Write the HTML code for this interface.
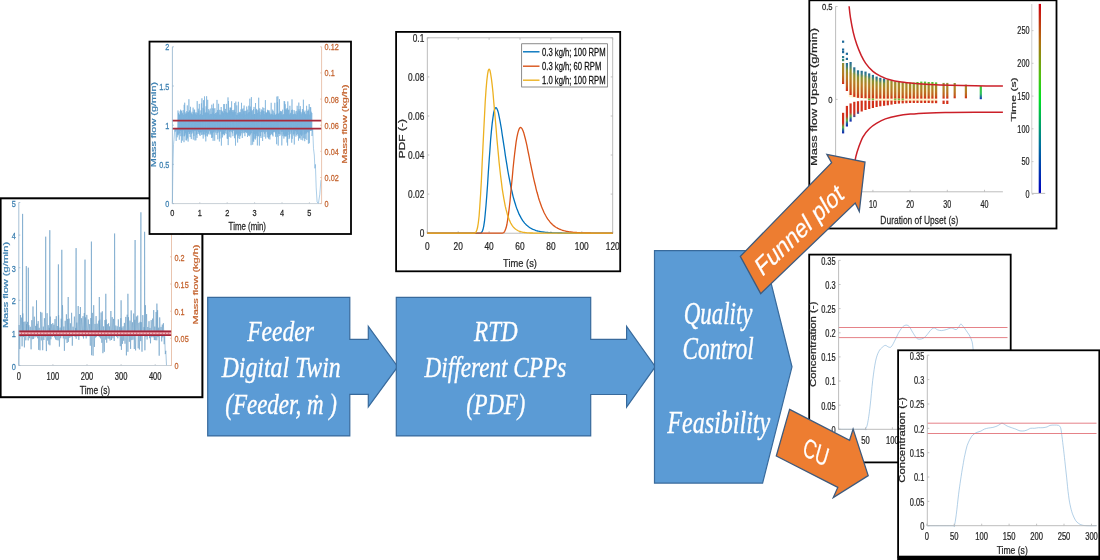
<!DOCTYPE html>
<html><head><meta charset="utf-8"><title>Digital twin workflow</title>
<style>html,body{margin:0;padding:0;background:#fff}svg{display:block}</style></head><body>
<svg width="1100" height="560" viewBox="0 0 1100 560" font-family="Liberation Sans, sans-serif">
<rect width="1100" height="560" fill="#fff"/>
<g id="plotA">
<rect x="0.6" y="198.3" width="201.8" height="198.9" fill="#fff" stroke="#000" stroke-width="2.0"/>
<path d="M18.8 365.5 L19.1 325.0 L19.8 349.1 L20.4 315.0 L20.9 337.0 L21.4 317.6 L22.1 346.3 L22.4 332.9 L22.6 213.9 L22.7 336.2 L22.8 313.4 L23.4 337.0 L23.9 321.9 L24.4 347.4 L25.1 321.5 L25.8 340.3 L26.2 332.9 L26.3 266.1 L26.5 336.2 L26.5 324.2 L27.0 335.8 L27.6 321.9 L28.2 332.9 L28.2 340.4 L28.3 267.7 L28.5 336.2 L28.9 325.2 L29.6 338.2 L30.3 326.8 L31.1 349.3 L31.8 320.2 L32.3 339.2 L33.0 306.5 L33.6 339.0 L34.3 316.7 L35.0 337.4 L35.6 325.9 L36.3 336.5 L36.4 332.9 L36.5 300.3 L36.7 336.2 L37.1 323.8 L37.7 338.3 L38.2 321.1 L38.7 349.8 L39.2 327.8 L40.0 350.3 L40.6 311.9 L41.3 340.4 L41.9 312.6 L42.7 350.2 L43.3 326.6 L43.9 340.0 L44.4 318.2 L45.1 337.2 L45.6 332.9 L45.7 236.7 L45.7 311.8 L45.9 336.2 L46.4 351.1 L47.1 313.2 L47.7 340.6 L48.3 325.2 L48.8 344.4 L49.3 327.8 L49.7 332.9 L49.8 230.2 L49.9 345.3 L50.0 336.2 L50.3 316.6 L50.9 339.3 L51.4 324.1 L52.2 336.8 L52.8 323.1 L53.3 335.4 L53.9 324.7 L54.4 337.4 L55.0 319.1 L55.5 339.4 L56.3 316.2 L56.8 340.1 L57.3 326.0 L58.1 340.4 L58.2 332.9 L58.4 264.4 L58.5 336.2 L58.6 315.2 L59.4 346.6 L60.1 327.5 L60.7 338.2 L61.2 318.7 L61.6 332.9 L61.8 335.8 L61.8 249.8 L61.9 336.2 L62.5 305.2 L63.3 338.4 L63.9 326.5 L64.4 350.8 L65.2 320.8 L65.9 339.3 L66.4 314.3 L67.1 343.0 L67.7 319.0 L68.1 332.9 L68.2 297.0 L68.3 341.9 L68.4 336.2 L69.1 318.6 L69.8 337.8 L70.4 323.3 L71.1 336.9 L71.6 312.8 L72.3 345.7 L73.0 326.7 L73.7 335.7 L74.4 316.6 L75.1 337.0 L75.7 327.9 L75.9 332.9 L76.1 248.1 L76.2 338.7 L76.2 336.2 L76.8 322.6 L77.5 336.3 L78.2 306.0 L78.8 339.8 L79.4 314.0 L79.9 336.2 L80.4 307.0 L80.9 335.4 L81.6 318.2 L82.3 336.5 L83.0 316.2 L83.5 338.5 L84.3 313.0 L84.8 332.9 L85.0 259.6 L85.0 335.4 L85.1 336.2 L85.6 317.4 L86.2 338.4 L86.8 314.9 L87.6 336.2 L88.3 319.5 L89.0 336.3 L89.7 324.1 L90.3 345.7 L90.8 318.1 L91.3 332.9 L91.4 241.6 L91.6 336.2 L91.6 355.2 L92.3 312.9 L93.1 355.7 L93.7 305.2 L94.4 346.9 L95.0 323.9 L95.6 337.6 L96.1 316.1 L96.6 336.7 L97.2 323.7 L98.0 335.3 L98.8 320.7 L99.1 332.9 L99.3 337.2 L99.3 297.0 L99.4 336.2 L99.8 319.6 L100.6 338.4 L101.1 312.5 L101.8 342.8 L102.3 311.3 L102.9 353.2 L103.6 326.4 L104.3 351.8 L104.9 320.1 L105.6 332.9 L105.7 339.7 L105.8 293.8 L105.9 336.2 L106.2 319.5 L106.7 342.7 L107.3 324.2 L108.0 338.5 L108.6 323.3 L109.1 338.7 L109.6 326.4 L110.1 340.5 L110.9 311.0 L111.5 340.0 L112.2 317.1 L112.9 338.3 L113.5 318.9 L114.2 341.0 L114.5 332.9 L114.6 233.5 L114.8 322.2 L114.8 336.2 L115.2 335.9 L115.8 325.5 L116.5 336.7 L117.2 326.3 L117.8 338.3 L118.3 319.4 L119.1 336.3 L119.7 326.9 L120.3 346.2 L120.8 318.2 L121.0 332.9 L121.1 300.3 L121.3 336.2 L121.4 349.9 L121.9 327.6 L122.5 343.8 L123.1 326.3 L123.7 340.8 L124.4 322.9 L125.0 343.7 L125.8 316.9 L126.4 355.4 L127.2 314.7 L127.8 332.9 L127.9 351.8 L127.9 293.8 L128.1 336.2 L128.5 317.2 L129.3 341.8 L130.0 320.6 L130.6 348.9 L131.2 310.4 L131.8 340.1 L132.5 322.3 L133.0 339.6 L133.7 313.5 L134.3 349.0 L134.9 319.8 L134.9 332.9 L135.1 240.0 L135.2 336.2 L135.6 350.4 L136.4 316.5 L137.0 335.3 L137.7 315.5 L138.2 348.3 L138.9 322.9 L139.4 349.5 L140.1 321.8 L140.7 341.1 L140.7 332.9 L140.9 212.3 L141.0 336.2 L141.3 322.2 L142.0 351.7 L142.8 315.1 L143.5 335.7 L144.1 327.1 L144.5 332.9 L144.6 231.8 L144.8 336.2 L144.9 350.3 L145.4 305.2 L145.9 336.8 L146.6 314.1 L147.1 339.5 L147.8 327.0 L148.4 335.2 L149.0 321.2 L149.5 338.2 L150.0 327.9 L150.5 343.3 L151.2 320.1 L151.8 337.2 L152.6 318.6 L153.2 337.3 L153.7 310.1 L154.3 340.0 L154.8 326.6 L155.3 340.2 L156.1 312.0 L156.8 332.9 L156.8 340.3 L156.9 303.6 L157.1 336.2 L157.6 310.2 L158.0 337.2 L158.7 327.7 L159.2 355.7 L159.7 317.4 L160.3 335.9 L161.1 326.9 L161.7 341.4 L162.3 324.6 L162.8 337.4 L163.4 323.2 L164.2 344.2 L164.7 336.2 L165.3 354.1 L165.8 350.8 L166.5 365.5" fill="none" stroke="#6a9dc6" stroke-width="0.6" stroke-linejoin="round" />
<rect x="18.8" y="330.8" width="152.7" height="5" fill="#d56a78"/>
<line x1="18.8" y1="331.3" x2="171.5" y2="331.3" stroke="#a3243a" stroke-width="1.4" />
<line x1="18.8" y1="335.3" x2="171.5" y2="335.3" stroke="#a3243a" stroke-width="1.4" />
<line x1="18.8" y1="333.3" x2="171.5" y2="333.3" stroke="#f6d6da" stroke-width="0.9" stroke-dasharray="2.2 1"/>
<line x1="18.8" y1="202.5" x2="18.8" y2="365.5" stroke="#8fb0cc" stroke-width="0.8" />
<line x1="18.8" y1="365.5" x2="171.5" y2="365.5" stroke="#b9c3cc" stroke-width="0.8" />
<line x1="171.5" y1="202.5" x2="171.5" y2="365.5" stroke="#e3b59b" stroke-width="0.8" />
<line x1="18.8" y1="365.5" x2="20.3" y2="365.5" stroke="#8fb0cc" stroke-width="0.7" />
<text transform="translate(15.8,369.5) scale(0.8,1)" font-size="9.2" text-anchor="end" fill="#3b7fb0" stroke="#3b7fb0" stroke-width="0.25" >0</text>
<line x1="18.8" y1="332.9" x2="20.3" y2="332.9" stroke="#8fb0cc" stroke-width="0.7" />
<text transform="translate(15.8,336.9) scale(0.8,1)" font-size="9.2" text-anchor="end" fill="#3b7fb0" stroke="#3b7fb0" stroke-width="0.25" >1</text>
<line x1="18.8" y1="300.3" x2="20.3" y2="300.3" stroke="#8fb0cc" stroke-width="0.7" />
<text transform="translate(15.8,304.3) scale(0.8,1)" font-size="9.2" text-anchor="end" fill="#3b7fb0" stroke="#3b7fb0" stroke-width="0.25" >2</text>
<line x1="18.8" y1="267.7" x2="20.3" y2="267.7" stroke="#8fb0cc" stroke-width="0.7" />
<text transform="translate(15.8,271.7) scale(0.8,1)" font-size="9.2" text-anchor="end" fill="#3b7fb0" stroke="#3b7fb0" stroke-width="0.25" >3</text>
<line x1="18.8" y1="235.1" x2="20.3" y2="235.1" stroke="#8fb0cc" stroke-width="0.7" />
<text transform="translate(15.8,239.1) scale(0.8,1)" font-size="9.2" text-anchor="end" fill="#3b7fb0" stroke="#3b7fb0" stroke-width="0.25" >4</text>
<line x1="18.8" y1="202.5" x2="20.3" y2="202.5" stroke="#8fb0cc" stroke-width="0.7" />
<text transform="translate(15.8,206.5) scale(0.8,1)" font-size="9.2" text-anchor="end" fill="#3b7fb0" stroke="#3b7fb0" stroke-width="0.25" >5</text>
<line x1="170.0" y1="365.5" x2="171.5" y2="365.5" stroke="#e3b59b" stroke-width="0.7" />
<text transform="translate(174.5,369.4) scale(0.76,1)" font-size="9.6" text-anchor="start" fill="#c4622d" stroke="#c4622d" stroke-width="0.25" >0</text>
<line x1="170.0" y1="338.3" x2="171.5" y2="338.3" stroke="#e3b59b" stroke-width="0.7" />
<text transform="translate(174.5,342.2) scale(0.76,1)" font-size="9.6" text-anchor="start" fill="#c4622d" stroke="#c4622d" stroke-width="0.25" >0.05</text>
<line x1="170.0" y1="311.2" x2="171.5" y2="311.2" stroke="#e3b59b" stroke-width="0.7" />
<text transform="translate(174.5,315.1) scale(0.76,1)" font-size="9.6" text-anchor="start" fill="#c4622d" stroke="#c4622d" stroke-width="0.25" >0.1</text>
<line x1="170.0" y1="284.0" x2="171.5" y2="284.0" stroke="#e3b59b" stroke-width="0.7" />
<text transform="translate(174.5,287.9) scale(0.76,1)" font-size="9.6" text-anchor="start" fill="#c4622d" stroke="#c4622d" stroke-width="0.25" >0.15</text>
<line x1="170.0" y1="256.8" x2="171.5" y2="256.8" stroke="#e3b59b" stroke-width="0.7" />
<text transform="translate(174.5,260.7) scale(0.76,1)" font-size="9.6" text-anchor="start" fill="#c4622d" stroke="#c4622d" stroke-width="0.25" >0.2</text>
<line x1="170.0" y1="229.6" x2="171.5" y2="229.6" stroke="#e3b59b" stroke-width="0.7" />
<text transform="translate(174.5,233.5) scale(0.76,1)" font-size="9.6" text-anchor="start" fill="#c4622d" stroke="#c4622d" stroke-width="0.25" >0.25</text>
<line x1="170.0" y1="202.5" x2="171.5" y2="202.5" stroke="#e3b59b" stroke-width="0.7" />
<text transform="translate(174.5,206.4) scale(0.76,1)" font-size="9.6" text-anchor="start" fill="#c4622d" stroke="#c4622d" stroke-width="0.25" >0.3</text>
<line x1="18.8" y1="365.5" x2="18.8" y2="364.0" stroke="#b9c3cc" stroke-width="0.7" />
<text transform="translate(18.8,379.7) scale(0.72,1)" font-size="10.5" text-anchor="middle" fill="#262626" stroke="#262626" stroke-width="0.25" >0</text>
<line x1="52.9" y1="365.5" x2="52.9" y2="364.0" stroke="#b9c3cc" stroke-width="0.7" />
<text transform="translate(52.9,379.7) scale(0.72,1)" font-size="10.5" text-anchor="middle" fill="#262626" stroke="#262626" stroke-width="0.25" >100</text>
<line x1="87.0" y1="365.5" x2="87.0" y2="364.0" stroke="#b9c3cc" stroke-width="0.7" />
<text transform="translate(87.0,379.7) scale(0.72,1)" font-size="10.5" text-anchor="middle" fill="#262626" stroke="#262626" stroke-width="0.25" >200</text>
<line x1="121.1" y1="365.5" x2="121.1" y2="364.0" stroke="#b9c3cc" stroke-width="0.7" />
<text transform="translate(121.1,379.7) scale(0.72,1)" font-size="10.5" text-anchor="middle" fill="#262626" stroke="#262626" stroke-width="0.25" >300</text>
<line x1="155.2" y1="365.5" x2="155.2" y2="364.0" stroke="#b9c3cc" stroke-width="0.7" />
<text transform="translate(155.2,379.7) scale(0.72,1)" font-size="10.5" text-anchor="middle" fill="#262626" stroke="#262626" stroke-width="0.25" >400</text>
<text transform="translate(95.0,393.5) scale(0.76,1)" font-size="11" text-anchor="middle" fill="#262626" stroke="#262626" stroke-width="0.25" >Time (s)</text>
<text transform="translate(8.2,285.0) scale(0.58,1.0) rotate(-90)" font-size="11" text-anchor="middle" fill="#3b7fb0" stroke="#3b7fb0" stroke-width="0.3">Mass flow (g/min)</text>
<text transform="translate(198.4,284.5) scale(0.58,1.0) rotate(-90)" font-size="11" text-anchor="middle" fill="#c4622d" stroke="#c4622d" stroke-width="0.3">Mass flow (kg/h)</text>
</g>
<g id="plotB">
<rect x="149.5" y="41.6" width="201.5" height="192.4" fill="#fff" stroke="#000" stroke-width="1.8"/>
<path d="M172.4 203.6 L172.9 168.3 L173.5 144.8 L174.0 139.3 L174.6 131.3 L174.9 129.1 L175.1 131.9 L175.4 129.1 L175.6 130.6 L175.9 129.1 L176.2 140.9 L176.4 129.1 L176.7 130.3 L176.9 129.1 L177.2 137.3 L177.5 129.1 L177.7 134.7 L178.0 110.5 L178.2 135.3 L178.5 112.8 L178.8 133.7 L179.0 114.3 L179.3 139.7 L179.5 114.8 L179.8 133.3 L180.1 111.3 L180.3 131.0 L180.6 109.7 L180.8 136.2 L181.1 110.5 L181.4 142.8 L181.6 111.1 L181.9 131.3 L182.1 113.9 L182.4 140.6 L182.7 112.8 L182.9 136.3 L183.2 110.1 L183.4 130.4 L183.7 114.9 L184.0 142.2 L184.2 104.8 L184.5 136.3 L184.7 102.7 L185.0 135.3 L185.3 114.1 L185.5 133.3 L185.8 112.4 L186.0 140.3 L186.3 113.5 L186.6 140.3 L186.8 111.0 L187.1 137.2 L187.3 105.4 L187.6 138.5 L187.9 112.6 L188.1 141.6 L188.4 112.0 L188.6 131.9 L188.9 99.2 L189.2 133.8 L189.4 110.3 L189.7 133.8 L189.9 111.1 L190.2 137.1 L190.5 106.8 L190.7 132.2 L191.0 113.3 L191.3 139.1 L191.5 113.6 L191.8 133.9 L192.0 111.8 L192.3 131.1 L192.6 114.4 L192.8 132.7 L193.1 107.6 L193.3 139.6 L193.6 112.4 L193.9 136.0 L194.1 109.7 L194.4 130.8 L194.6 109.7 L194.9 140.4 L195.2 112.3 L195.4 130.8 L195.7 113.6 L195.9 140.3 L196.2 114.9 L196.5 134.8 L196.7 112.4 L197.0 137.9 L197.2 101.1 L197.5 130.6 L197.8 113.2 L198.0 134.0 L198.3 108.7 L198.5 132.1 L198.8 110.7 L199.1 133.5 L199.3 103.9 L199.6 134.8 L199.8 114.9 L200.1 136.0 L200.4 113.9 L200.6 132.4 L200.9 110.4 L201.1 132.3 L201.4 103.3 L201.7 134.9 L201.9 98.3 L202.2 134.6 L202.4 114.9 L202.7 131.5 L203.0 107.8 L203.2 138.6 L203.5 100.2 L203.7 134.4 L204.0 109.4 L204.3 134.5 L204.5 96.4 L204.8 131.7 L205.0 113.2 L205.3 136.5 L205.6 112.4 L205.8 141.4 L206.1 106.3 L206.3 132.8 L206.6 96.2 L206.9 135.7 L207.1 112.4 L207.4 136.5 L207.7 99.8 L207.9 130.3 L208.2 113.2 L208.4 133.6 L208.7 109.1 L209.0 134.5 L209.2 110.5 L209.5 130.5 L209.7 114.5 L210.0 131.5 L210.3 108.6 L210.5 133.6 L210.8 114.0 L211.0 134.8 L211.3 113.9 L211.6 138.0 L211.8 104.7 L212.1 133.4 L212.3 108.3 L212.6 137.5 L212.9 112.6 L213.1 140.8 L213.4 103.6 L213.6 132.5 L213.9 108.7 L214.2 131.6 L214.4 114.0 L214.7 140.7 L214.9 108.2 L215.2 130.5 L215.5 113.0 L215.7 132.6 L216.0 114.5 L216.2 134.8 L216.5 112.4 L216.8 130.5 L217.0 99.9 L217.3 133.1 L217.5 110.2 L217.8 139.3 L218.1 112.4 L218.3 131.1 L218.6 103.8 L218.8 132.5 L219.1 109.8 L219.4 141.5 L219.6 114.7 L219.9 138.5 L220.1 110.0 L220.4 131.7 L220.7 114.5 L220.9 131.1 L221.2 107.0 L221.4 145.6 L221.7 110.3 L222.0 134.2 L222.2 111.5 L222.5 137.4 L222.7 111.5 L223.0 134.1 L223.3 113.0 L223.5 133.9 L223.8 104.1 L224.0 135.4 L224.3 104.1 L224.6 135.0 L224.8 111.1 L225.1 133.0 L225.4 108.9 L225.6 130.8 L225.9 112.2 L226.1 133.9 L226.4 103.9 L226.7 130.3 L226.9 112.4 L227.2 138.6 L227.4 113.1 L227.7 138.9 L228.0 97.4 L228.2 145.1 L228.5 101.0 L228.7 130.6 L229.0 112.1 L229.3 136.8 L229.5 110.3 L229.8 132.1 L230.0 107.6 L230.3 131.0 L230.6 107.7 L230.8 137.6 L231.1 107.8 L231.3 130.5 L231.6 101.3 L231.9 132.0 L232.1 111.9 L232.4 133.3 L232.6 110.1 L232.9 136.2 L233.2 112.2 L233.4 130.6 L233.7 110.3 L233.9 130.4 L234.2 109.7 L234.5 138.2 L234.7 103.0 L235.0 135.5 L235.2 112.0 L235.5 145.6 L235.8 101.6 L236.0 135.2 L236.3 114.8 L236.5 133.8 L236.8 105.4 L237.1 133.4 L237.3 114.8 L237.6 142.5 L237.8 112.9 L238.1 138.3 L238.4 101.8 L238.6 135.7 L238.9 113.5 L239.1 133.5 L239.4 111.9 L239.7 139.0 L239.9 113.4 L240.2 136.2 L240.4 112.1 L240.7 135.2 L241.0 109.3 L241.2 131.0 L241.5 102.8 L241.7 133.3 L242.0 113.9 L242.3 138.0 L242.5 109.4 L242.8 131.6 L243.1 108.4 L243.3 133.2 L243.6 111.3 L243.8 130.6 L244.1 105.5 L244.4 132.9 L244.6 111.1 L244.9 136.2 L245.1 114.6 L245.4 132.2 L245.7 110.9 L245.9 132.0 L246.2 110.6 L246.4 132.7 L246.7 106.5 L247.0 133.2 L247.2 113.7 L247.5 137.0 L247.7 109.6 L248.0 132.2 L248.3 112.6 L248.5 135.6 L248.8 105.7 L249.0 134.9 L249.3 111.9 L249.6 136.2 L249.8 98.7 L250.1 133.6 L250.3 106.6 L250.6 134.6 L250.9 109.3 L251.1 145.2 L251.4 97.1 L251.6 133.2 L251.9 111.5 L252.2 130.9 L252.4 110.3 L252.7 144.7 L252.9 114.4 L253.2 141.3 L253.5 109.0 L253.7 141.8 L254.0 106.9 L254.2 134.2 L254.5 114.0 L254.8 138.7 L255.0 114.2 L255.3 139.6 L255.5 103.0 L255.8 138.2 L256.1 109.8 L256.3 135.8 L256.6 108.9 L256.8 133.6 L257.1 110.4 L257.4 145.4 L257.6 112.9 L257.9 136.3 L258.1 109.8 L258.4 136.2 L258.7 97.7 L258.9 131.4 L259.2 111.5 L259.4 145.6 L259.7 108.3 L260.0 132.5 L260.2 114.8 L260.5 136.2 L260.8 111.9 L261.0 138.0 L261.3 109.4 L261.5 132.1 L261.8 111.3 L262.1 131.4 L262.3 110.1 L262.6 141.0 L262.8 107.3 L263.1 132.3 L263.4 111.1 L263.6 131.6 L263.9 108.0 L264.1 136.8 L264.4 114.2 L264.7 133.9 L264.9 111.3 L265.2 132.5 L265.4 100.1 L265.7 138.6 L266.0 112.7 L266.2 130.4 L266.5 113.0 L266.7 132.1 L267.0 112.0 L267.3 137.2 L267.5 109.8 L267.8 134.3 L268.0 110.7 L268.3 138.1 L268.6 110.5 L268.8 139.1 L269.1 110.4 L269.3 137.1 L269.6 112.5 L269.9 139.5 L270.1 113.6 L270.4 135.2 L270.6 114.7 L270.9 131.3 L271.2 102.8 L271.4 134.4 L271.7 113.9 L271.9 133.4 L272.2 114.4 L272.5 135.2 L272.7 109.6 L273.0 136.4 L273.2 110.9 L273.5 132.2 L273.8 114.9 L274.0 132.1 L274.3 112.8 L274.5 131.5 L274.8 102.8 L275.1 132.5 L275.3 114.8 L275.6 136.8 L275.8 114.8 L276.1 133.8 L276.4 113.8 L276.6 144.2 L276.9 96.6 L277.2 131.7 L277.4 102.1 L277.7 136.9 L277.9 96.3 L278.2 145.6 L278.5 114.1 L278.7 133.8 L279.0 112.9 L279.2 134.0 L279.5 99.2 L279.8 136.0 L280.0 112.4 L280.3 130.4 L280.5 110.9 L280.8 134.6 L281.1 111.6 L281.3 131.8 L281.6 111.4 L281.8 145.4 L282.1 114.8 L282.4 131.7 L282.6 109.7 L282.9 136.2 L283.1 114.8 L283.4 134.4 L283.7 114.0 L283.9 138.6 L284.2 101.0 L284.4 136.4 L284.7 101.5 L285.0 136.0 L285.2 104.2 L285.5 136.5 L285.7 109.3 L286.0 134.4 L286.3 110.0 L286.5 136.3 L286.8 108.6 L287.0 142.5 L287.3 108.0 L287.6 145.6 L287.8 101.4 L288.1 134.9 L288.3 109.9 L288.6 131.8 L288.9 109.7 L289.1 139.1 L289.4 114.5 L289.6 137.6 L289.9 105.8 L290.2 134.2 L290.4 113.4 L290.7 130.4 L290.9 112.8 L291.2 132.5 L291.5 110.1 L291.7 142.7 L292.0 99.4 L292.2 138.8 L292.5 109.7 L292.8 130.4 L293.0 114.6 L293.3 134.0 L293.5 114.2 L293.8 135.6 L294.1 110.0 L294.3 144.5 L294.6 113.8 L294.9 133.5 L295.1 111.3 L295.4 131.1 L295.6 113.8 L295.9 136.6 L296.2 114.9 L296.4 135.2 L296.7 110.9 L296.9 131.7 L297.2 105.8 L297.5 134.1 L297.7 112.5 L298.0 135.7 L298.2 109.4 L298.5 140.7 L298.8 102.6 L299.0 130.4 L299.3 111.0 L299.5 138.2 L299.8 109.3 L300.1 138.4 L300.3 106.1 L300.6 134.6 L300.8 111.8 L301.1 139.9 L301.4 114.3 L301.6 136.1 L301.9 112.5 L302.1 134.7 L302.4 109.0 L302.7 140.4 L302.9 110.6 L303.2 130.4 L303.4 99.7 L303.7 138.2 L304.0 112.6 L304.2 134.4 L304.5 112.1 L304.7 141.2 L305.0 110.6 L305.3 138.8 L305.5 114.3 L305.8 133.8 L306.0 113.6 L306.3 133.2 L306.6 105.8 L306.8 139.9 L307.1 114.6 L307.3 131.9 L307.6 111.0 L307.9 132.4 L308.1 109.5 L308.4 143.7 L308.6 110.6 L308.9 132.5 L309.2 104.1 L309.4 143.2 L309.7 114.5 L309.9 130.5 L310.2 107.1 L310.5 130.7 L310.7 107.3 L311.0 130.8 L311.2 111.7 L311.5 130.5 L311.8 113.0 L312.0 136.0 L312.7 129.1 L313.5 148.7 L314.3 155.0 L314.9 168.3 L315.4 164.4 L316.2 187.9 L317.1 202.0 L318.4 203.6 L319.8 194.2 L320.9 180.1" fill="none" stroke="#74acd8" stroke-width="0.6" stroke-linejoin="round" />
<line x1="172.4" y1="120.7" x2="321.6" y2="120.7" stroke="#a8283a" stroke-width="1.8" />
<line x1="172.4" y1="128.7" x2="321.6" y2="128.7" stroke="#a8283a" stroke-width="1.8" />
<line x1="172.4" y1="46.8" x2="172.4" y2="203.6" stroke="#8fb0cc" stroke-width="0.8" />
<line x1="172.4" y1="203.6" x2="321.6" y2="203.6" stroke="#b9c3cc" stroke-width="0.8" />
<line x1="321.6" y1="46.8" x2="321.6" y2="203.6" stroke="#e3b59b" stroke-width="0.8" />
<line x1="172.4" y1="203.6" x2="173.9" y2="203.6" stroke="#8fb0cc" stroke-width="0.7" />
<text transform="translate(169.4,207.1) scale(0.76,1)" font-size="9.6" text-anchor="end" fill="#3b7fb0" stroke="#3b7fb0" stroke-width="0.25" >0</text>
<line x1="172.4" y1="164.4" x2="173.9" y2="164.4" stroke="#8fb0cc" stroke-width="0.7" />
<text transform="translate(169.4,167.9) scale(0.76,1)" font-size="9.6" text-anchor="end" fill="#3b7fb0" stroke="#3b7fb0" stroke-width="0.25" >0.5</text>
<line x1="172.4" y1="125.2" x2="173.9" y2="125.2" stroke="#8fb0cc" stroke-width="0.7" />
<text transform="translate(169.4,128.7) scale(0.76,1)" font-size="9.6" text-anchor="end" fill="#3b7fb0" stroke="#3b7fb0" stroke-width="0.25" >1</text>
<line x1="172.4" y1="86.0" x2="173.9" y2="86.0" stroke="#8fb0cc" stroke-width="0.7" />
<text transform="translate(169.4,89.5) scale(0.76,1)" font-size="9.6" text-anchor="end" fill="#3b7fb0" stroke="#3b7fb0" stroke-width="0.25" >1.5</text>
<line x1="172.4" y1="46.8" x2="173.9" y2="46.8" stroke="#8fb0cc" stroke-width="0.7" />
<text transform="translate(169.4,50.3) scale(0.76,1)" font-size="9.6" text-anchor="end" fill="#3b7fb0" stroke="#3b7fb0" stroke-width="0.25" >2</text>
<line x1="320.1" y1="203.6" x2="321.6" y2="203.6" stroke="#e3b59b" stroke-width="0.7" />
<text transform="translate(324.6,207.1) scale(0.76,1)" font-size="9.6" text-anchor="start" fill="#c4622d" stroke="#c4622d" stroke-width="0.25" >0</text>
<line x1="320.1" y1="177.5" x2="321.6" y2="177.5" stroke="#e3b59b" stroke-width="0.7" />
<text transform="translate(324.6,181.0) scale(0.76,1)" font-size="9.6" text-anchor="start" fill="#c4622d" stroke="#c4622d" stroke-width="0.25" >0.02</text>
<line x1="320.1" y1="151.3" x2="321.6" y2="151.3" stroke="#e3b59b" stroke-width="0.7" />
<text transform="translate(324.6,154.8) scale(0.76,1)" font-size="9.6" text-anchor="start" fill="#c4622d" stroke="#c4622d" stroke-width="0.25" >0.04</text>
<line x1="320.1" y1="125.2" x2="321.6" y2="125.2" stroke="#e3b59b" stroke-width="0.7" />
<text transform="translate(324.6,128.7) scale(0.76,1)" font-size="9.6" text-anchor="start" fill="#c4622d" stroke="#c4622d" stroke-width="0.25" >0.06</text>
<line x1="320.1" y1="99.1" x2="321.6" y2="99.1" stroke="#e3b59b" stroke-width="0.7" />
<text transform="translate(324.6,102.6) scale(0.76,1)" font-size="9.6" text-anchor="start" fill="#c4622d" stroke="#c4622d" stroke-width="0.25" >0.08</text>
<line x1="320.1" y1="72.9" x2="321.6" y2="72.9" stroke="#e3b59b" stroke-width="0.7" />
<text transform="translate(324.6,76.4) scale(0.76,1)" font-size="9.6" text-anchor="start" fill="#c4622d" stroke="#c4622d" stroke-width="0.25" >0.1</text>
<line x1="320.1" y1="46.8" x2="321.6" y2="46.8" stroke="#e3b59b" stroke-width="0.7" />
<text transform="translate(324.6,50.3) scale(0.76,1)" font-size="9.6" text-anchor="start" fill="#c4622d" stroke="#c4622d" stroke-width="0.25" >0.12</text>
<line x1="172.4" y1="203.6" x2="172.4" y2="202.1" stroke="#b9c3cc" stroke-width="0.7" />
<text transform="translate(172.4,216.3) scale(0.8,1)" font-size="9.2" text-anchor="middle" fill="#262626" stroke="#262626" stroke-width="0.25" >0</text>
<line x1="199.8" y1="203.6" x2="199.8" y2="202.1" stroke="#b9c3cc" stroke-width="0.7" />
<text transform="translate(199.8,216.3) scale(0.8,1)" font-size="9.2" text-anchor="middle" fill="#262626" stroke="#262626" stroke-width="0.25" >1</text>
<line x1="227.2" y1="203.6" x2="227.2" y2="202.1" stroke="#b9c3cc" stroke-width="0.7" />
<text transform="translate(227.2,216.3) scale(0.8,1)" font-size="9.2" text-anchor="middle" fill="#262626" stroke="#262626" stroke-width="0.25" >2</text>
<line x1="254.6" y1="203.6" x2="254.6" y2="202.1" stroke="#b9c3cc" stroke-width="0.7" />
<text transform="translate(254.6,216.3) scale(0.8,1)" font-size="9.2" text-anchor="middle" fill="#262626" stroke="#262626" stroke-width="0.25" >3</text>
<line x1="282.0" y1="203.6" x2="282.0" y2="202.1" stroke="#b9c3cc" stroke-width="0.7" />
<text transform="translate(282.0,216.3) scale(0.8,1)" font-size="9.2" text-anchor="middle" fill="#262626" stroke="#262626" stroke-width="0.25" >4</text>
<line x1="309.4" y1="203.6" x2="309.4" y2="202.1" stroke="#b9c3cc" stroke-width="0.7" />
<text transform="translate(309.4,216.3) scale(0.8,1)" font-size="9.2" text-anchor="middle" fill="#262626" stroke="#262626" stroke-width="0.25" >5</text>
<text transform="translate(247.3,230.3) scale(0.76,1)" font-size="10.4" text-anchor="middle" fill="#262626" stroke="#262626" stroke-width="0.25" >Time (min)</text>
<text transform="translate(156.4,124.5) scale(0.58,1.0) rotate(-90)" font-size="10.9" text-anchor="middle" fill="#3b7fb0" stroke="#3b7fb0" stroke-width="0.3">Mass flow (g/min)</text>
<text transform="translate(347.4,124.0) scale(0.58,1.0) rotate(-90)" font-size="10.9" text-anchor="middle" fill="#c4622d" stroke="#c4622d" stroke-width="0.3">Mass flow (kg/h)</text>
</g>
<g id="plotC">
<rect x="396.1" y="31.9" width="224.1" height="239.4" fill="#fff" stroke="#000" stroke-width="1.8"/>
<rect x="427.3" y="37.8" width="185.4" height="195.4" fill="none" stroke="#b5b5b5" stroke-width="0.9"/>
<line x1="427.3" y1="233.2" x2="427.3" y2="231.2" stroke="#b5b5b5" stroke-width="0.8" />
<line x1="427.3" y1="37.8" x2="427.3" y2="39.8" stroke="#b5b5b5" stroke-width="0.8" />
<text transform="translate(427.3,250.3) scale(0.745,1)" font-size="11.2" text-anchor="middle" fill="#262626" stroke="#262626" stroke-width="0.25" >0</text>
<line x1="458.2" y1="233.2" x2="458.2" y2="231.2" stroke="#b5b5b5" stroke-width="0.8" />
<line x1="458.2" y1="37.8" x2="458.2" y2="39.8" stroke="#b5b5b5" stroke-width="0.8" />
<text transform="translate(458.2,250.3) scale(0.745,1)" font-size="11.2" text-anchor="middle" fill="#262626" stroke="#262626" stroke-width="0.25" >20</text>
<line x1="489.1" y1="233.2" x2="489.1" y2="231.2" stroke="#b5b5b5" stroke-width="0.8" />
<line x1="489.1" y1="37.8" x2="489.1" y2="39.8" stroke="#b5b5b5" stroke-width="0.8" />
<text transform="translate(489.1,250.3) scale(0.745,1)" font-size="11.2" text-anchor="middle" fill="#262626" stroke="#262626" stroke-width="0.25" >40</text>
<line x1="520.0" y1="233.2" x2="520.0" y2="231.2" stroke="#b5b5b5" stroke-width="0.8" />
<line x1="520.0" y1="37.8" x2="520.0" y2="39.8" stroke="#b5b5b5" stroke-width="0.8" />
<text transform="translate(520.0,250.3) scale(0.745,1)" font-size="11.2" text-anchor="middle" fill="#262626" stroke="#262626" stroke-width="0.25" >60</text>
<line x1="550.9" y1="233.2" x2="550.9" y2="231.2" stroke="#b5b5b5" stroke-width="0.8" />
<line x1="550.9" y1="37.8" x2="550.9" y2="39.8" stroke="#b5b5b5" stroke-width="0.8" />
<text transform="translate(550.9,250.3) scale(0.745,1)" font-size="11.2" text-anchor="middle" fill="#262626" stroke="#262626" stroke-width="0.25" >80</text>
<line x1="581.8" y1="233.2" x2="581.8" y2="231.2" stroke="#b5b5b5" stroke-width="0.8" />
<line x1="581.8" y1="37.8" x2="581.8" y2="39.8" stroke="#b5b5b5" stroke-width="0.8" />
<text transform="translate(581.8,250.3) scale(0.745,1)" font-size="11.2" text-anchor="middle" fill="#262626" stroke="#262626" stroke-width="0.25" >100</text>
<line x1="612.7" y1="233.2" x2="612.7" y2="231.2" stroke="#b5b5b5" stroke-width="0.8" />
<line x1="612.7" y1="37.8" x2="612.7" y2="39.8" stroke="#b5b5b5" stroke-width="0.8" />
<text transform="translate(612.7,250.3) scale(0.745,1)" font-size="11.2" text-anchor="middle" fill="#262626" stroke="#262626" stroke-width="0.25" >120</text>
<line x1="427.3" y1="233.2" x2="429.3" y2="233.2" stroke="#b5b5b5" stroke-width="0.8" />
<line x1="612.7" y1="233.2" x2="610.7" y2="233.2" stroke="#b5b5b5" stroke-width="0.8" />
<text transform="translate(424.3,237.2) scale(0.745,1)" font-size="11.2" text-anchor="end" fill="#262626" stroke="#262626" stroke-width="0.25" >0</text>
<line x1="427.3" y1="194.1" x2="429.3" y2="194.1" stroke="#b5b5b5" stroke-width="0.8" />
<line x1="612.7" y1="194.1" x2="610.7" y2="194.1" stroke="#b5b5b5" stroke-width="0.8" />
<text transform="translate(424.3,198.1) scale(0.745,1)" font-size="11.2" text-anchor="end" fill="#262626" stroke="#262626" stroke-width="0.25" >0.02</text>
<line x1="427.3" y1="155.0" x2="429.3" y2="155.0" stroke="#b5b5b5" stroke-width="0.8" />
<line x1="612.7" y1="155.0" x2="610.7" y2="155.0" stroke="#b5b5b5" stroke-width="0.8" />
<text transform="translate(424.3,159.0) scale(0.745,1)" font-size="11.2" text-anchor="end" fill="#262626" stroke="#262626" stroke-width="0.25" >0.04</text>
<line x1="427.3" y1="116.0" x2="429.3" y2="116.0" stroke="#b5b5b5" stroke-width="0.8" />
<line x1="612.7" y1="116.0" x2="610.7" y2="116.0" stroke="#b5b5b5" stroke-width="0.8" />
<text transform="translate(424.3,120.0) scale(0.745,1)" font-size="11.2" text-anchor="end" fill="#262626" stroke="#262626" stroke-width="0.25" >0.06</text>
<line x1="427.3" y1="76.9" x2="429.3" y2="76.9" stroke="#b5b5b5" stroke-width="0.8" />
<line x1="612.7" y1="76.9" x2="610.7" y2="76.9" stroke="#b5b5b5" stroke-width="0.8" />
<text transform="translate(424.3,80.9) scale(0.745,1)" font-size="11.2" text-anchor="end" fill="#262626" stroke="#262626" stroke-width="0.25" >0.08</text>
<line x1="427.3" y1="37.8" x2="429.3" y2="37.8" stroke="#b5b5b5" stroke-width="0.8" />
<line x1="612.7" y1="37.8" x2="610.7" y2="37.8" stroke="#b5b5b5" stroke-width="0.8" />
<text transform="translate(424.3,41.8) scale(0.745,1)" font-size="11.2" text-anchor="end" fill="#262626" stroke="#262626" stroke-width="0.25" >0.1</text>
<text transform="translate(520.0,266.6) scale(0.79,1)" font-size="11.8" text-anchor="middle" fill="#262626" stroke="#262626" stroke-width="0.25" >Time (s)</text>
<text transform="translate(405.3,138.7) scale(0.81,1.0) rotate(-90)" font-size="12" text-anchor="middle" fill="#262626" stroke="#262626" stroke-width="0.3">PDF (-)</text>
<path d="M427.3 233.2 L428.1 233.2 L428.8 233.2 L429.6 233.2 L430.4 233.2 L431.2 233.2 L431.9 233.2 L432.7 233.2 L433.5 233.2 L434.3 233.2 L435.0 233.2 L435.8 233.2 L436.6 233.2 L437.3 233.2 L438.1 233.2 L438.9 233.2 L439.7 233.2 L440.4 233.2 L441.2 233.2 L442.0 233.2 L442.8 233.2 L443.5 233.2 L444.3 233.2 L445.1 233.2 L445.8 233.2 L446.6 233.2 L447.4 233.2 L448.2 233.2 L448.9 233.2 L449.7 233.2 L450.5 233.2 L451.2 233.2 L452.0 233.2 L452.8 233.2 L453.6 233.2 L454.3 233.2 L455.1 233.2 L455.9 233.2 L456.7 233.2 L457.4 233.2 L458.2 233.2 L459.0 233.2 L459.7 233.2 L460.5 233.2 L461.3 233.2 L462.1 233.2 L462.8 233.2 L463.6 233.2 L464.4 233.2 L465.2 233.2 L465.9 233.2 L466.7 233.2 L467.5 233.2 L468.2 233.2 L469.0 233.2 L469.8 233.2 L470.6 233.2 L471.3 233.2 L472.1 233.2 L472.9 233.2 L473.6 233.2 L474.4 233.2 L475.2 233.2 L476.0 233.2 L476.7 233.2 L477.5 233.2 L478.3 233.2 L479.1 233.2 L479.8 233.2 L480.6 233.1 L481.4 232.7 L482.1 231.7 L482.9 229.8 L483.7 226.3 L484.5 221.2 L485.2 214.2 L486.0 205.5 L486.8 195.4 L487.6 184.3 L488.3 172.7 L489.1 161.2 L489.9 150.2 L490.6 140.0 L491.4 131.1 L492.2 123.4 L493.0 117.3 L493.7 112.7 L494.5 109.6 L495.3 108.0 L496.1 107.6 L496.8 108.4 L497.6 110.2 L498.4 112.9 L499.1 116.3 L499.9 120.3 L500.7 124.8 L501.5 129.5 L502.2 134.5 L503.0 139.7 L503.8 144.8 L504.6 150.0 L505.3 155.1 L506.1 160.1 L506.9 164.9 L507.6 169.5 L508.4 174.0 L509.2 178.2 L510.0 182.2 L510.7 186.0 L511.5 189.6 L512.3 193.0 L513.0 196.1 L513.8 199.0 L514.6 201.7 L515.4 204.3 L516.1 206.6 L516.9 208.8 L517.7 210.8 L518.5 212.7 L519.2 214.4 L520.0 215.9 L520.8 217.4 L521.5 218.7 L522.3 220.0 L523.1 221.1 L523.9 222.1 L524.6 223.1 L525.4 223.9 L526.2 224.7 L527.0 225.4 L527.7 226.1 L528.5 226.7 L529.3 227.3 L530.0 227.8 L530.8 228.2 L531.6 228.7 L532.4 229.1 L533.1 229.4 L533.9 229.7 L534.7 230.0 L535.5 230.3 L536.2 230.6 L537.0 230.8 L537.8 231.0 L538.5 231.2 L539.3 231.3 L540.1 231.5 L540.9 231.6 L541.6 231.8 L542.4 231.9 L543.2 232.0 L543.9 232.1 L544.7 232.2 L545.5 232.3 L546.3 232.4 L547.0 232.4 L547.8 232.5 L548.6 232.6 L549.4 232.6 L550.1 232.7 L550.9 232.7 L551.7 232.7 L552.4 232.8 L553.2 232.8 L554.0 232.8 L554.8 232.9 L555.5 232.9 L556.3 232.9 L557.1 232.9 L557.9 233.0 L558.6 233.0 L559.4 233.0 L560.2 233.0 L560.9 233.0 L561.7 233.0 L562.5 233.1 L563.3 233.1 L564.0 233.1 L564.8 233.1 L565.6 233.1 L566.4 233.1 L567.1 233.1 L567.9 233.1 L568.7 233.1 L569.4 233.1 L570.2 233.1 L571.0 233.1 L571.8 233.1 L572.5 233.2 L573.3 233.2 L574.1 233.2 L574.8 233.2 L575.6 233.2 L576.4 233.2 L577.2 233.2 L577.9 233.2 L578.7 233.2 L579.5 233.2 L580.3 233.2 L581.0 233.2 L581.8 233.2 L582.6 233.2 L583.3 233.2 L584.1 233.2 L584.9 233.2 L585.7 233.2 L586.4 233.2 L587.2 233.2 L588.0 233.2 L588.8 233.2 L589.5 233.2 L590.3 233.2 L591.1 233.2 L591.8 233.2 L592.6 233.2 L593.4 233.2 L594.2 233.2 L594.9 233.2 L595.7 233.2 L596.5 233.2 L597.2 233.2 L598.0 233.2 L598.8 233.2 L599.6 233.2 L600.3 233.2 L601.1 233.2 L601.9 233.2 L602.7 233.2 L603.4 233.2 L604.2 233.2 L605.0 233.2 L605.7 233.2 L606.5 233.2 L607.3 233.2 L608.1 233.2 L608.8 233.2 L609.6 233.2 L610.4 233.2 L611.2 233.2 L611.9 233.2 L612.7 233.2" fill="none" stroke="#0072bd" stroke-width="1.3" stroke-linejoin="round" />
<path d="M427.3 233.2 L428.1 233.2 L428.8 233.2 L429.6 233.2 L430.4 233.2 L431.2 233.2 L431.9 233.2 L432.7 233.2 L433.5 233.2 L434.3 233.2 L435.0 233.2 L435.8 233.2 L436.6 233.2 L437.3 233.2 L438.1 233.2 L438.9 233.2 L439.7 233.2 L440.4 233.2 L441.2 233.2 L442.0 233.2 L442.8 233.2 L443.5 233.2 L444.3 233.2 L445.1 233.2 L445.8 233.2 L446.6 233.2 L447.4 233.2 L448.2 233.2 L448.9 233.2 L449.7 233.2 L450.5 233.2 L451.2 233.2 L452.0 233.2 L452.8 233.2 L453.6 233.2 L454.3 233.2 L455.1 233.2 L455.9 233.2 L456.7 233.2 L457.4 233.2 L458.2 233.2 L459.0 233.2 L459.7 233.2 L460.5 233.2 L461.3 233.2 L462.1 233.2 L462.8 233.2 L463.6 233.2 L464.4 233.2 L465.2 233.2 L465.9 233.2 L466.7 233.2 L467.5 233.2 L468.2 233.2 L469.0 233.2 L469.8 233.2 L470.6 233.2 L471.3 233.2 L472.1 233.2 L472.9 233.2 L473.6 233.2 L474.4 233.2 L475.2 233.2 L476.0 233.2 L476.7 233.2 L477.5 233.2 L478.3 233.2 L479.1 233.2 L479.8 233.2 L480.6 233.2 L481.4 233.2 L482.1 233.2 L482.9 233.2 L483.7 233.2 L484.5 233.2 L485.2 233.2 L486.0 233.2 L486.8 233.2 L487.6 233.2 L488.3 233.2 L489.1 233.2 L489.9 233.2 L490.6 233.2 L491.4 233.2 L492.2 233.2 L493.0 233.2 L493.7 233.2 L494.5 233.2 L495.3 233.2 L496.1 233.2 L496.8 233.2 L497.6 233.2 L498.4 233.2 L499.1 233.2 L499.9 233.2 L500.7 233.2 L501.5 233.2 L502.2 233.1 L503.0 232.9 L503.8 232.5 L504.6 231.6 L505.3 230.1 L506.1 227.8 L506.9 224.5 L507.6 220.1 L508.4 214.7 L509.2 208.3 L510.0 201.2 L510.7 193.4 L511.5 185.3 L512.3 177.1 L513.0 169.0 L513.8 161.3 L514.6 154.1 L515.4 147.7 L516.1 142.1 L516.9 137.4 L517.7 133.6 L518.5 130.7 L519.2 128.8 L520.0 127.7 L520.8 127.5 L521.5 128.0 L522.3 129.2 L523.1 131.0 L523.9 133.3 L524.6 136.0 L525.4 139.0 L526.2 142.4 L527.0 145.9 L527.7 149.7 L528.5 153.5 L529.3 157.3 L530.0 161.2 L530.8 165.0 L531.6 168.8 L532.4 172.5 L533.1 176.1 L533.9 179.6 L534.7 183.0 L535.5 186.2 L536.2 189.3 L537.0 192.3 L537.8 195.0 L538.5 197.7 L539.3 200.2 L540.1 202.5 L540.9 204.7 L541.6 206.8 L542.4 208.7 L543.2 210.5 L543.9 212.2 L544.7 213.8 L545.5 215.3 L546.3 216.7 L547.0 217.9 L547.8 219.1 L548.6 220.2 L549.4 221.2 L550.1 222.1 L550.9 223.0 L551.7 223.8 L552.4 224.5 L553.2 225.2 L554.0 225.9 L554.8 226.4 L555.5 227.0 L556.3 227.5 L557.1 227.9 L557.9 228.4 L558.6 228.7 L559.4 229.1 L560.2 229.4 L560.9 229.7 L561.7 230.0 L562.5 230.3 L563.3 230.5 L564.0 230.7 L564.8 230.9 L565.6 231.1 L566.4 231.3 L567.1 231.4 L567.9 231.6 L568.7 231.7 L569.4 231.8 L570.2 231.9 L571.0 232.0 L571.8 232.1 L572.5 232.2 L573.3 232.3 L574.1 232.4 L574.8 232.4 L575.6 232.5 L576.4 232.5 L577.2 232.6 L577.9 232.6 L578.7 232.7 L579.5 232.7 L580.3 232.8 L581.0 232.8 L581.8 232.8 L582.6 232.9 L583.3 232.9 L584.1 232.9 L584.9 232.9 L585.7 233.0 L586.4 233.0 L587.2 233.0 L588.0 233.0 L588.8 233.0 L589.5 233.0 L590.3 233.0 L591.1 233.1 L591.8 233.1 L592.6 233.1 L593.4 233.1 L594.2 233.1 L594.9 233.1 L595.7 233.1 L596.5 233.1 L597.2 233.1 L598.0 233.1 L598.8 233.1 L599.6 233.1 L600.3 233.1 L601.1 233.1 L601.9 233.2 L602.7 233.2 L603.4 233.2 L604.2 233.2 L605.0 233.2 L605.7 233.2 L606.5 233.2 L607.3 233.2 L608.1 233.2 L608.8 233.2 L609.6 233.2 L610.4 233.2 L611.2 233.2 L611.9 233.2 L612.7 233.2" fill="none" stroke="#d95319" stroke-width="1.3" stroke-linejoin="round" />
<path d="M427.3 233.2 L428.1 233.2 L428.8 233.2 L429.6 233.2 L430.4 233.2 L431.2 233.2 L431.9 233.2 L432.7 233.2 L433.5 233.2 L434.3 233.2 L435.0 233.2 L435.8 233.2 L436.6 233.2 L437.3 233.2 L438.1 233.2 L438.9 233.2 L439.7 233.2 L440.4 233.2 L441.2 233.2 L442.0 233.2 L442.8 233.2 L443.5 233.2 L444.3 233.2 L445.1 233.2 L445.8 233.2 L446.6 233.2 L447.4 233.2 L448.2 233.2 L448.9 233.2 L449.7 233.2 L450.5 233.2 L451.2 233.2 L452.0 233.2 L452.8 233.2 L453.6 233.2 L454.3 233.2 L455.1 233.2 L455.9 233.2 L456.7 233.2 L457.4 233.2 L458.2 233.2 L459.0 233.2 L459.7 233.2 L460.5 233.2 L461.3 233.2 L462.1 233.2 L462.8 233.2 L463.6 233.2 L464.4 233.2 L465.2 233.2 L465.9 233.2 L466.7 233.2 L467.5 233.2 L468.2 233.2 L469.0 233.2 L469.8 233.2 L470.6 233.2 L471.3 233.2 L472.1 233.2 L472.9 233.2 L473.6 233.2 L474.4 233.1 L475.2 232.8 L476.0 232.1 L476.7 230.6 L477.5 227.8 L478.3 223.0 L479.1 216.0 L479.8 206.4 L480.6 194.3 L481.4 180.1 L482.1 164.4 L482.9 147.9 L483.7 131.5 L484.5 116.0 L485.2 102.0 L486.0 90.1 L486.8 80.8 L487.6 74.2 L488.3 70.3 L489.1 69.1 L489.9 70.2 L490.6 73.5 L491.4 78.6 L492.2 85.1 L493.0 92.8 L493.7 101.2 L494.5 110.1 L495.3 119.3 L496.1 128.5 L496.8 137.5 L497.6 146.2 L498.4 154.6 L499.1 162.4 L499.9 169.8 L500.7 176.6 L501.5 182.9 L502.2 188.6 L503.0 193.7 L503.8 198.4 L504.6 202.6 L505.3 206.4 L506.1 209.7 L506.9 212.7 L507.6 215.3 L508.4 217.6 L509.2 219.7 L510.0 221.4 L510.7 223.0 L511.5 224.4 L512.3 225.6 L513.0 226.6 L513.8 227.5 L514.6 228.3 L515.4 229.0 L516.1 229.5 L516.9 230.0 L517.7 230.5 L518.5 230.9 L519.2 231.2 L520.0 231.5 L520.8 231.7 L521.5 231.9 L522.3 232.1 L523.1 232.3 L523.9 232.4 L524.6 232.5 L525.4 232.6 L526.2 232.7 L527.0 232.8 L527.7 232.8 L528.5 232.9 L529.3 232.9 L530.0 233.0 L530.8 233.0 L531.6 233.0 L532.4 233.0 L533.1 233.1 L533.9 233.1 L534.7 233.1 L535.5 233.1 L536.2 233.1 L537.0 233.1 L537.8 233.1 L538.5 233.2 L539.3 233.2 L540.1 233.2 L540.9 233.2 L541.6 233.2 L542.4 233.2 L543.2 233.2 L543.9 233.2 L544.7 233.2 L545.5 233.2 L546.3 233.2 L547.0 233.2 L547.8 233.2 L548.6 233.2 L549.4 233.2 L550.1 233.2 L550.9 233.2 L551.7 233.2 L552.4 233.2 L553.2 233.2 L554.0 233.2 L554.8 233.2 L555.5 233.2 L556.3 233.2 L557.1 233.2 L557.9 233.2 L558.6 233.2 L559.4 233.2 L560.2 233.2 L560.9 233.2 L561.7 233.2 L562.5 233.2 L563.3 233.2 L564.0 233.2 L564.8 233.2 L565.6 233.2 L566.4 233.2 L567.1 233.2 L567.9 233.2 L568.7 233.2 L569.4 233.2 L570.2 233.2 L571.0 233.2 L571.8 233.2 L572.5 233.2 L573.3 233.2 L574.1 233.2 L574.8 233.2 L575.6 233.2 L576.4 233.2 L577.2 233.2 L577.9 233.2 L578.7 233.2 L579.5 233.2 L580.3 233.2 L581.0 233.2 L581.8 233.2 L582.6 233.2 L583.3 233.2 L584.1 233.2 L584.9 233.2 L585.7 233.2 L586.4 233.2 L587.2 233.2 L588.0 233.2 L588.8 233.2 L589.5 233.2 L590.3 233.2 L591.1 233.2 L591.8 233.2 L592.6 233.2 L593.4 233.2 L594.2 233.2 L594.9 233.2 L595.7 233.2 L596.5 233.2 L597.2 233.2 L598.0 233.2 L598.8 233.2 L599.6 233.2 L600.3 233.2 L601.1 233.2 L601.9 233.2 L602.7 233.2 L603.4 233.2 L604.2 233.2 L605.0 233.2 L605.7 233.2 L606.5 233.2 L607.3 233.2 L608.1 233.2 L608.8 233.2 L609.6 233.2 L610.4 233.2 L611.2 233.2 L611.9 233.2 L612.7 233.2" fill="none" stroke="#edb120" stroke-width="1.3" stroke-linejoin="round" />
<rect x="521.7" y="43.8" width="85.8" height="43.2" fill="#fff" stroke="#5a5a5a" stroke-width="0.7"/>
<line x1="523.0" y1="51.8" x2="539.5" y2="51.8" stroke="#0072bd" stroke-width="1.4" />
<text transform="translate(542.0,55.5) scale(0.733,1)" font-size="10.5" text-anchor="start" fill="#111" stroke="#111" stroke-width="0.25" >0.3 kg/h; 100 RPM</text>
<line x1="523.0" y1="66.2" x2="539.5" y2="66.2" stroke="#d95319" stroke-width="1.4" />
<text transform="translate(542.0,70.0) scale(0.733,1)" font-size="10.5" text-anchor="start" fill="#111" stroke="#111" stroke-width="0.25" >0.3 kg/h; 60 RPM</text>
<line x1="523.0" y1="80.2" x2="539.5" y2="80.2" stroke="#edb120" stroke-width="1.4" />
<text transform="translate(542.0,84.0) scale(0.733,1)" font-size="10.5" text-anchor="start" fill="#111" stroke="#111" stroke-width="0.25" >1.0 kg/h; 100 RPM</text>
</g>
<g id="plotD">
<defs>
<linearGradient id="gE" x1="0" y1="0" x2="0" y2="1"><stop offset="0" stop-color="#1f6a9a"/><stop offset="0.12" stop-color="#3d8080"/><stop offset="0.26" stop-color="#8a9232"/><stop offset="0.5" stop-color="#b57c26"/><stop offset="0.8" stop-color="#c25a1e"/><stop offset="1" stop-color="#d22a18"/></linearGradient>
<linearGradient id="gM" x1="0" y1="0" x2="0" y2="1"><stop offset="0" stop-color="#8a8f3a"/><stop offset="0.2" stop-color="#a88a2c"/><stop offset="0.55" stop-color="#b87824"/><stop offset="0.82" stop-color="#c25a1e"/><stop offset="1" stop-color="#d22a18"/></linearGradient>
<linearGradient id="gG" x1="0" y1="0" x2="0" y2="1"><stop offset="0" stop-color="#40d030"/><stop offset="0.18" stop-color="#959230"/><stop offset="0.55" stop-color="#b87824"/><stop offset="0.82" stop-color="#c25a1e"/><stop offset="1" stop-color="#d22a18"/></linearGradient>
<linearGradient id="gL" x1="0" y1="0" x2="0" y2="1"><stop offset="0" stop-color="#d2301a"/><stop offset="0.5" stop-color="#d03020"/><stop offset="0.7" stop-color="#60b040"/><stop offset="0.85" stop-color="#2060a0"/><stop offset="1" stop-color="#1020b0"/></linearGradient>
<linearGradient id="gL2" x1="0" y1="0" x2="0" y2="1"><stop offset="0" stop-color="#d2301a"/><stop offset="0.75" stop-color="#d03020"/><stop offset="1" stop-color="#3050a0"/></linearGradient>
<linearGradient id="gCB" x1="0" y1="1" x2="0" y2="0"><stop offset="0" stop-color="#0000c0"/><stop offset="0.25" stop-color="#0070a0"/><stop offset="0.5" stop-color="#00e020"/><stop offset="0.62" stop-color="#50c010"/><stop offset="0.8" stop-color="#b07010"/><stop offset="1" stop-color="#d00010"/></linearGradient>
<linearGradient id="gLast" x1="0" y1="0" x2="0" y2="1"><stop offset="0" stop-color="#40d030"/><stop offset="0.6" stop-color="#30c060"/><stop offset="1" stop-color="#1030c0"/></linearGradient>
</defs>
<rect x="809.3" y="0.3" width="247.2" height="228.2" fill="#fff" stroke="#000" stroke-width="1.8"/>
<polygon points="848.7,72 872.9,77 895.2,82 937.3,83 937.3,102.5 887.8,102 848.7,97" fill="#fdf3cf"/>
<rect x="842.0" y="63" width="2.2" height="21.0" fill="url(#gM)"/>
<rect x="842.0" y="112.8" width="2.2" height="20.6" fill="url(#gL)"/>
<rect x="845.8" y="63" width="2.2" height="28.0" fill="url(#gE)"/>
<rect x="845.8" y="105.9" width="2.2" height="20.6" fill="url(#gL)"/>
<rect x="849.5" y="62" width="2.2" height="33.0" fill="url(#gE)"/>
<rect x="849.5" y="103.4" width="2.2" height="18.2" fill="url(#gL)"/>
<rect x="853.2" y="67.3" width="2.2" height="29.6" fill="url(#gE)"/>
<rect x="853.2" y="101.8" width="2.2" height="15.3" fill="url(#gL2)"/>
<rect x="856.9" y="70.3" width="2.2" height="27.5" fill="url(#gE)"/>
<rect x="856.9" y="101.2" width="2.2" height="12.6" fill="url(#gL2)"/>
<rect x="860.6" y="70.8" width="2.2" height="27.2" fill="url(#gE)"/>
<rect x="860.6" y="100.6" width="2.2" height="10.9" fill="#d2301a"/>
<rect x="864.4" y="71.6" width="2.2" height="26.6" fill="url(#gE)"/>
<rect x="864.4" y="100.6" width="2.2" height="9.4" fill="#d2301a"/>
<rect x="868.1" y="73.4" width="2.2" height="25.2" fill="url(#gE)"/>
<rect x="868.1" y="100.6" width="2.2" height="8.4" fill="#d2301a"/>
<rect x="871.8" y="74.9" width="2.2" height="23.7" fill="url(#gE)"/>
<rect x="871.8" y="100.6" width="2.2" height="7.4" fill="#d2301a"/>
<rect x="875.5" y="76.6" width="2.2" height="22.0" fill="url(#gE)"/>
<rect x="875.5" y="100.6" width="2.2" height="6.4" fill="#d2301a"/>
<rect x="879.2" y="77.8" width="2.2" height="20.8" fill="url(#gE)"/>
<rect x="879.2" y="100.6" width="2.2" height="5.7" fill="#d2301a"/>
<rect x="883.0" y="78.5" width="2.2" height="20.1" fill="url(#gE)"/>
<rect x="883.0" y="100.6" width="2.2" height="5.2" fill="#d2301a"/>
<rect x="886.7" y="79.6" width="2.2" height="19.0" fill="url(#gM)"/>
<rect x="886.7" y="100.6" width="2.2" height="4.7" fill="#d2301a"/>
<rect x="890.4" y="80.4" width="2.2" height="18.2" fill="url(#gM)"/>
<rect x="890.4" y="100.6" width="2.2" height="4.0" fill="#d2301a"/>
<rect x="894.1" y="81.5" width="2.2" height="17.1" fill="url(#gM)"/>
<rect x="894.1" y="100.6" width="2.2" height="3.4" fill="#d2301a"/>
<rect x="897.8" y="82" width="2.2" height="16.6" fill="url(#gM)"/>
<rect x="897.8" y="100.6" width="2.2" height="3.0" fill="#d2301a"/>
<rect x="901.6" y="82.4" width="2.2" height="16.2" fill="url(#gM)"/>
<rect x="901.6" y="100.6" width="2.2" height="2.8" fill="#d2301a"/>
<rect x="905.3" y="82.6" width="2.2" height="16.0" fill="url(#gM)"/>
<rect x="905.3" y="100.6" width="2.2" height="2.6" fill="#d2301a"/>
<rect x="909.0" y="82.8" width="2.2" height="15.8" fill="url(#gM)"/>
<rect x="909.0" y="100.6" width="2.2" height="2.4" fill="#d2301a"/>
<rect x="912.7" y="82.6" width="2.2" height="16.0" fill="url(#gG)"/>
<rect x="912.7" y="100.6" width="2.2" height="2.4" fill="#d2301a"/>
<rect x="916.4" y="82" width="2.2" height="16.6" fill="url(#gG)"/>
<rect x="916.4" y="100.6" width="2.2" height="2.4" fill="#d2301a"/>
<rect x="920.2" y="81.6" width="2.2" height="17.0" fill="url(#gG)"/>
<rect x="920.2" y="100.6" width="2.2" height="2.4" fill="#d2301a"/>
<rect x="923.9" y="81.6" width="2.2" height="17.0" fill="url(#gG)"/>
<rect x="923.9" y="100.6" width="2.2" height="2.4" fill="#d2301a"/>
<rect x="927.6" y="82" width="2.2" height="16.6" fill="url(#gG)"/>
<rect x="927.6" y="100.6" width="2.2" height="2.4" fill="#d2301a"/>
<rect x="931.3" y="82" width="2.2" height="16.6" fill="url(#gG)"/>
<rect x="931.3" y="100.6" width="2.2" height="2.6" fill="#d2301a"/>
<rect x="935.0" y="82.4" width="2.2" height="16.2" fill="url(#gG)"/>
<rect x="935.0" y="100.6" width="2.2" height="2.6" fill="#d2301a"/>
<rect x="942.5" y="82.9" width="2.2" height="15.7" fill="url(#gM)"/>
<rect x="942.5" y="100.6" width="2.2" height="3.4" fill="#d2301a"/>
<rect x="946.2" y="82.9" width="2.2" height="15.7" fill="url(#gM)"/>
<rect x="946.2" y="100.6" width="2.2" height="3.4" fill="#d2301a"/>
<rect x="953.6" y="83" width="2.2" height="15.3" fill="url(#gM)"/>
<rect x="964.8" y="84.6" width="2.2" height="13.7" fill="url(#gM)"/>
<rect x="979.7" y="86" width="2.2" height="13.2" fill="url(#gLast)"/>
<rect x="842.0" y="40.6" width="2.2" height="2.2" fill="#1f6a9a"/>
<rect x="842.0" y="48.5" width="2.2" height="2.2" fill="#1f6a9a"/>
<rect x="842.0" y="51.0" width="2.2" height="2.2" fill="#1f6a9a"/>
<rect x="842.0" y="56.0" width="2.2" height="2.2" fill="#2a7a90"/>
<rect x="842.0" y="59.0" width="2.2" height="2.2" fill="#3a8a70"/>
<rect x="845.8" y="52.7" width="2.2" height="2.2" fill="#1f6a9a"/>
<rect x="845.8" y="57.8" width="2.2" height="2.2" fill="#1f6a9a"/>
<rect x="868.1" y="98.6" width="2.2" height="1.6" fill="#70c040"/>
<rect x="871.8" y="98.6" width="2.2" height="1.6" fill="#70c040"/>
<rect x="894.1" y="98.6" width="2.2" height="1.6" fill="#70c040"/>
<rect x="897.8" y="98.6" width="2.2" height="1.6" fill="#70c040"/>
<rect x="901.6" y="98.6" width="2.2" height="1.6" fill="#70c040"/>
<path d="M849.1 6.2 C849.3 8.2 849.8 13.6 850.5 17.9 C851.2 22.2 852.2 27.7 853.2 32.1 C854.2 36.6 855.5 40.7 856.8 44.6 C858.1 48.5 859.8 52.3 861.2 55.4 C862.7 58.5 863.8 60.7 865.7 63.4 C867.6 66.1 870.5 69.3 872.9 71.4 C875.3 73.5 877.3 74.6 880.0 75.9 C882.7 77.2 885.3 78.5 888.9 79.5 C892.5 80.5 896.9 81.4 901.4 82.1 C905.9 82.8 910.9 83.2 915.7 83.6 C920.5 84.0 924.3 84.2 930.0 84.5 C935.7 84.8 942.5 85.1 950.0 85.3 C957.5 85.5 966.2 85.7 975.0 85.8 C983.8 85.9 998.2 86.0 1002.9 86.1" fill="none" stroke="#cb1f28" stroke-width="1.5"/>
<path d="M851.5 191.5 C851.8 187.9 852.8 175.8 853.5 170.0 C854.2 164.2 855.0 160.2 855.9 156.4 C856.8 152.7 857.4 150.8 858.6 147.5 C859.8 144.2 861.2 139.9 863.0 136.8 C864.8 133.7 867.1 131.0 869.3 128.8 C871.5 126.5 873.7 125.0 876.4 123.4 C879.1 121.8 881.8 120.2 885.4 118.9 C889.0 117.6 893.7 116.5 897.9 115.7 C902.1 114.9 905.0 114.6 910.4 114.1 C915.8 113.6 923.4 113.2 930.0 112.9 C936.6 112.6 942.5 112.6 950.0 112.5 C957.5 112.4 966.2 112.3 975.0 112.3 C983.8 112.3 998.2 112.3 1002.9 112.3" fill="none" stroke="#cb1f28" stroke-width="1.5"/>
<line x1="835.6" y1="6.5" x2="835.6" y2="191.8" stroke="#b5b5b5" stroke-width="0.9" />
<line x1="835.6" y1="191.8" x2="1002.9" y2="191.8" stroke="#b5b5b5" stroke-width="0.9" />
<line x1="835.6" y1="6.5" x2="837.6" y2="6.5" stroke="#b5b5b5" stroke-width="0.8" />
<text transform="translate(832.6,10.4) scale(0.78,1)" font-size="9.8" text-anchor="end" fill="#262626" stroke="#262626" stroke-width="0.25" >0.5</text>
<line x1="835.6" y1="99.4" x2="837.6" y2="99.4" stroke="#b5b5b5" stroke-width="0.8" />
<text transform="translate(832.6,103.3) scale(0.78,1)" font-size="9.8" text-anchor="end" fill="#262626" stroke="#262626" stroke-width="0.25" >0</text>
<line x1="835.6" y1="192.3" x2="837.6" y2="192.3" stroke="#b5b5b5" stroke-width="0.8" />
<text transform="translate(832.6,196.2) scale(0.78,1)" font-size="9.8" text-anchor="end" fill="#262626" stroke="#262626" stroke-width="0.25" >-0.5</text>
<line x1="872.9" y1="191.8" x2="872.9" y2="189.8" stroke="#b5b5b5" stroke-width="0.8" />
<text transform="translate(872.9,207.9) scale(0.7,1)" font-size="10.2" text-anchor="middle" fill="#262626" stroke="#262626" stroke-width="0.25" >10</text>
<line x1="910.1" y1="191.8" x2="910.1" y2="189.8" stroke="#b5b5b5" stroke-width="0.8" />
<text transform="translate(910.1,207.9) scale(0.7,1)" font-size="10.2" text-anchor="middle" fill="#262626" stroke="#262626" stroke-width="0.25" >20</text>
<line x1="947.3" y1="191.8" x2="947.3" y2="189.8" stroke="#b5b5b5" stroke-width="0.8" />
<text transform="translate(947.3,207.9) scale(0.7,1)" font-size="10.2" text-anchor="middle" fill="#262626" stroke="#262626" stroke-width="0.25" >30</text>
<line x1="984.5" y1="191.8" x2="984.5" y2="189.8" stroke="#b5b5b5" stroke-width="0.8" />
<text transform="translate(984.5,207.9) scale(0.7,1)" font-size="10.2" text-anchor="middle" fill="#262626" stroke="#262626" stroke-width="0.25" >40</text>
<text transform="translate(919.3,223.8) scale(0.735,1)" font-size="11.5" text-anchor="middle" fill="#262626" stroke="#262626" stroke-width="0.25" >Duration of Upset (s)</text>
<text transform="translate(817.3,97.0) scale(0.66,1.0) rotate(-90)" font-size="12.9" text-anchor="middle" fill="#262626" stroke="#262626" stroke-width="0.3">Mass flow Upset (g/min)</text>
<rect x="1038.7" y="3.9" width="2.3" height="189.3" fill="url(#gCB)"/>
<line x1="1031.8" y1="4.0" x2="1031.8" y2="193.4" stroke="#c8c8c8" stroke-width="0.9" />
<line x1="1031.8" y1="193.4" x2="1045.2" y2="193.4" stroke="#b5b5b5" stroke-width="0.9" />
<line x1="1031.8" y1="194.3" x2="1033.5" y2="194.3" stroke="#b5b5b5" stroke-width="0.7" />
<text transform="translate(1029.5,198.0) scale(0.7,1)" font-size="10.4" text-anchor="end" fill="#262626" stroke="#262626" stroke-width="0.25" >0</text>
<line x1="1031.8" y1="161.6" x2="1033.5" y2="161.6" stroke="#b5b5b5" stroke-width="0.7" />
<text transform="translate(1029.5,165.2) scale(0.7,1)" font-size="10.4" text-anchor="end" fill="#262626" stroke="#262626" stroke-width="0.25" >50</text>
<line x1="1031.8" y1="128.8" x2="1033.5" y2="128.8" stroke="#b5b5b5" stroke-width="0.7" />
<text transform="translate(1029.5,132.5) scale(0.7,1)" font-size="10.4" text-anchor="end" fill="#262626" stroke="#262626" stroke-width="0.25" >100</text>
<line x1="1031.8" y1="96.1" x2="1033.5" y2="96.1" stroke="#b5b5b5" stroke-width="0.7" />
<text transform="translate(1029.5,99.8) scale(0.7,1)" font-size="10.4" text-anchor="end" fill="#262626" stroke="#262626" stroke-width="0.25" >150</text>
<line x1="1031.8" y1="63.3" x2="1033.5" y2="63.3" stroke="#b5b5b5" stroke-width="0.7" />
<text transform="translate(1029.5,67.0) scale(0.7,1)" font-size="10.4" text-anchor="end" fill="#262626" stroke="#262626" stroke-width="0.25" >200</text>
<line x1="1031.8" y1="30.6" x2="1033.5" y2="30.6" stroke="#b5b5b5" stroke-width="0.7" />
<text transform="translate(1029.5,34.3) scale(0.7,1)" font-size="10.4" text-anchor="end" fill="#262626" stroke="#262626" stroke-width="0.25" >250</text>
<text transform="translate(1015.5,99.5) scale(0.57,1.0) rotate(-90)" font-size="12.2" text-anchor="middle" fill="#262626" stroke="#262626" stroke-width="0.3">Time (s)</text>
</g>
<g id="plotE">
<rect x="809.2" y="254.6" width="201.5" height="207.8" fill="#fff" stroke="#000" stroke-width="1.8"/>
<path d="M838.6 429.3 C842.9 429.3 860.0 429.3 864.4 429.3 C868.9 429.3 864.8 430.2 865.3 429.3 C865.8 428.4 866.7 427.7 867.5 423.8 C868.3 420.0 869.3 413.4 870.1 406.1 C871.0 398.9 871.8 387.9 872.7 380.4 C873.6 372.9 874.6 365.9 875.6 361.1 C876.6 356.3 877.7 353.7 878.8 351.5 C879.9 349.2 880.9 348.6 882.0 347.6 C883.1 346.6 884.2 345.5 885.2 345.4 C886.3 345.2 887.5 346.7 888.5 347.0 C889.4 347.2 890.1 347.8 891.0 347.0 C892.0 346.1 893.1 344.0 894.2 341.8 C895.4 339.6 896.8 336.2 898.1 333.8 C899.4 331.4 900.9 328.8 902.3 327.3 C903.6 325.9 905.0 325.2 906.1 325.1 C907.3 325.0 908.3 325.5 909.4 326.7 C910.4 327.9 911.4 330.3 912.6 332.2 C913.8 334.0 915.3 336.8 916.4 338.0 C917.6 339.1 918.4 339.2 919.7 339.2 C920.9 339.2 922.6 338.7 923.8 338.0 C925.1 337.2 925.8 336.1 927.1 334.7 C928.3 333.3 930.0 330.7 931.2 329.6 C932.5 328.5 933.4 327.9 934.4 328.0 C935.5 328.0 936.5 329.5 937.7 329.9 C938.8 330.3 940.1 330.6 941.5 330.6 C943.0 330.5 944.7 330.0 946.3 329.6 C948.0 329.2 949.6 328.0 951.2 328.0 C952.8 328.0 954.8 329.7 956.0 329.6 C957.2 329.5 957.8 328.3 958.6 327.3 C959.4 326.4 960.0 324.2 960.8 324.1 C961.6 324.0 962.3 325.4 963.4 326.7 C964.5 328.0 966.2 330.6 967.3 332.2 C968.3 333.7 969.0 334.4 969.8 336.0 C970.6 337.6 971.5 339.8 972.1 341.8 C972.6 343.9 972.8 345.8 973.0 348.2 C973.3 350.7 973.3 350.4 973.7 356.3 C974.1 362.2 974.7 374.8 975.3 383.6 C975.9 392.5 976.7 402.7 977.5 409.4 C978.4 416.1 978.9 420.6 980.1 423.8 C981.4 427.1 982.8 427.7 984.9 428.7 C987.1 429.6 989.2 429.2 993.0 429.3 C996.7 429.4 1005.1 429.3 1007.5 429.3" fill="none" stroke="#7fb0d6" stroke-width="0.6"/>
<line x1="838.6" y1="327.5" x2="1007.5" y2="327.5" stroke="#e2747a" stroke-width="0.9" />
<line x1="838.6" y1="337.6" x2="1007.5" y2="337.6" stroke="#e2747a" stroke-width="0.9" />
<line x1="838.6" y1="260.4" x2="838.6" y2="429.3" stroke="#b5b5b5" stroke-width="0.9" />
<line x1="838.6" y1="429.3" x2="1007.5" y2="429.3" stroke="#b5b5b5" stroke-width="0.9" />
<line x1="838.6" y1="429.3" x2="840.6" y2="429.3" stroke="#b5b5b5" stroke-width="0.8" />
<text transform="translate(835.6,433.7) scale(0.745,1)" font-size="10" text-anchor="end" fill="#262626" stroke="#262626" stroke-width="0.25" >0</text>
<line x1="838.6" y1="405.2" x2="840.6" y2="405.2" stroke="#b5b5b5" stroke-width="0.8" />
<text transform="translate(835.6,409.6) scale(0.745,1)" font-size="10" text-anchor="end" fill="#262626" stroke="#262626" stroke-width="0.25" >0.05</text>
<line x1="838.6" y1="381.0" x2="840.6" y2="381.0" stroke="#b5b5b5" stroke-width="0.8" />
<text transform="translate(835.6,385.4) scale(0.745,1)" font-size="10" text-anchor="end" fill="#262626" stroke="#262626" stroke-width="0.25" >0.1</text>
<line x1="838.6" y1="356.9" x2="840.6" y2="356.9" stroke="#b5b5b5" stroke-width="0.8" />
<text transform="translate(835.6,361.3) scale(0.745,1)" font-size="10" text-anchor="end" fill="#262626" stroke="#262626" stroke-width="0.25" >0.15</text>
<line x1="838.6" y1="332.8" x2="840.6" y2="332.8" stroke="#b5b5b5" stroke-width="0.8" />
<text transform="translate(835.6,337.2) scale(0.745,1)" font-size="10" text-anchor="end" fill="#262626" stroke="#262626" stroke-width="0.25" >0.2</text>
<line x1="838.6" y1="308.6" x2="840.6" y2="308.6" stroke="#b5b5b5" stroke-width="0.8" />
<text transform="translate(835.6,313.0) scale(0.745,1)" font-size="10" text-anchor="end" fill="#262626" stroke="#262626" stroke-width="0.25" >0.25</text>
<line x1="838.6" y1="284.5" x2="840.6" y2="284.5" stroke="#b5b5b5" stroke-width="0.8" />
<text transform="translate(835.6,288.9) scale(0.745,1)" font-size="10" text-anchor="end" fill="#262626" stroke="#262626" stroke-width="0.25" >0.3</text>
<line x1="838.6" y1="260.4" x2="840.6" y2="260.4" stroke="#b5b5b5" stroke-width="0.8" />
<text transform="translate(835.6,264.8) scale(0.745,1)" font-size="10" text-anchor="end" fill="#262626" stroke="#262626" stroke-width="0.25" >0.35</text>
<line x1="838.6" y1="429.3" x2="838.6" y2="427.3" stroke="#b5b5b5" stroke-width="0.8" />
<text transform="translate(838.6,444.3) scale(0.745,1)" font-size="10.2" text-anchor="middle" fill="#262626" stroke="#262626" stroke-width="0.25" >0</text>
<line x1="865.5" y1="429.3" x2="865.5" y2="427.3" stroke="#b5b5b5" stroke-width="0.8" />
<text transform="translate(865.5,444.3) scale(0.745,1)" font-size="10.2" text-anchor="middle" fill="#262626" stroke="#262626" stroke-width="0.25" >50</text>
<line x1="892.4" y1="429.3" x2="892.4" y2="427.3" stroke="#b5b5b5" stroke-width="0.8" />
<text transform="translate(892.4,444.3) scale(0.745,1)" font-size="10.2" text-anchor="middle" fill="#262626" stroke="#262626" stroke-width="0.25" >100</text>
<line x1="919.3" y1="429.3" x2="919.3" y2="427.3" stroke="#b5b5b5" stroke-width="0.8" />
<text transform="translate(919.3,444.3) scale(0.745,1)" font-size="10.2" text-anchor="middle" fill="#262626" stroke="#262626" stroke-width="0.25" >150</text>
<line x1="946.2" y1="429.3" x2="946.2" y2="427.3" stroke="#b5b5b5" stroke-width="0.8" />
<text transform="translate(946.2,444.3) scale(0.745,1)" font-size="10.2" text-anchor="middle" fill="#262626" stroke="#262626" stroke-width="0.25" >200</text>
<line x1="973.1" y1="429.3" x2="973.1" y2="427.3" stroke="#b5b5b5" stroke-width="0.8" />
<text transform="translate(973.1,444.3) scale(0.745,1)" font-size="10.2" text-anchor="middle" fill="#262626" stroke="#262626" stroke-width="0.25" >250</text>
<line x1="1000.0" y1="429.3" x2="1000.0" y2="427.3" stroke="#b5b5b5" stroke-width="0.8" />
<text transform="translate(1000.0,444.3) scale(0.745,1)" font-size="10.2" text-anchor="middle" fill="#262626" stroke="#262626" stroke-width="0.25" >300</text>
<text transform="translate(923.0,458.0) scale(0.81,1)" font-size="10.6" text-anchor="middle" fill="#262626" stroke="#262626" stroke-width="0.25" >Time (s)</text>
<text transform="translate(816.4,344.3) scale(0.72,1.0) rotate(-90)" font-size="11.4" text-anchor="middle" fill="#262626" stroke="#262626" stroke-width="0.3">Concentration (-)</text>
</g>
<g id="plotF">
<rect x="898.1" y="350.3" width="201.2" height="206.3" fill="#fff" stroke="#000" stroke-width="1.8"/>
<rect x="897.2" y="556.6" width="203" height="3.4" fill="#000"/>
<path d="M926.8 525.7 C931.0 525.7 947.5 525.7 952.1 525.7 C956.6 525.7 953.6 527.6 954.3 525.7 C955.0 523.8 955.6 519.5 956.3 514.3 C957.0 509.0 957.9 500.0 958.6 494.3 C959.3 488.6 959.9 484.8 960.6 480.0 C961.3 475.2 962.1 469.9 962.9 465.7 C963.6 461.5 964.1 458.2 964.9 454.9 C965.6 451.5 966.3 448.3 967.1 445.7 C968.0 443.1 969.0 441.0 970.0 439.1 C971.0 437.3 971.7 436.0 972.9 434.9 C974.0 433.7 975.8 432.9 977.1 432.3 C978.5 431.7 979.7 431.7 980.9 431.1 C982.0 430.6 983.0 429.7 984.3 429.1 C985.6 428.6 987.1 428.3 988.6 428.0 C990.0 427.7 991.4 427.8 992.9 427.4 C994.3 427.1 996.0 426.5 997.1 426.0 C998.3 425.5 999.2 424.8 1000.0 424.3 C1000.8 423.8 1001.3 423.1 1002.0 423.1 C1002.7 423.1 1003.4 423.8 1004.3 424.3 C1005.1 424.8 1006.2 425.5 1007.1 426.0 C1008.1 426.5 1008.6 426.6 1010.0 427.1 C1011.4 427.7 1014.0 428.5 1015.7 429.1 C1017.4 429.8 1018.6 430.6 1020.0 430.9 C1021.4 431.1 1023.0 431.0 1024.3 430.9 C1025.6 430.7 1026.7 430.1 1027.7 429.7 C1028.8 429.3 1029.5 428.5 1030.6 428.3 C1031.7 428.0 1033.0 428.4 1034.3 428.3 C1035.6 428.2 1037.1 427.8 1038.6 427.7 C1040.0 427.6 1041.4 427.9 1042.9 427.7 C1044.3 427.6 1046.0 427.2 1047.1 426.9 C1048.3 426.5 1048.8 425.7 1050.0 425.4 C1051.2 425.1 1052.9 425.1 1054.3 425.1 C1055.7 425.1 1057.5 425.0 1058.6 425.4 C1059.6 425.9 1060.0 426.2 1060.6 427.7 C1061.1 429.2 1061.3 431.3 1061.7 434.3 C1062.1 437.3 1062.6 441.2 1063.1 445.7 C1063.7 450.2 1064.3 456.2 1064.9 461.4 C1065.4 466.7 1066.0 471.4 1066.6 477.1 C1067.2 482.9 1067.9 490.7 1068.6 495.7 C1069.2 500.7 1069.9 504.0 1070.6 507.1 C1071.3 510.3 1072.0 512.6 1072.9 514.9 C1073.7 517.1 1074.8 519.1 1075.7 520.6 C1076.7 522.0 1077.5 522.7 1078.6 523.4 C1079.6 524.2 1080.6 524.8 1082.0 525.1 C1083.4 525.5 1084.7 525.6 1087.1 525.7 C1089.6 525.8 1095.0 525.7 1096.6 525.7" fill="none" stroke="#7fb0d6" stroke-width="0.6"/>
<line x1="927.3" y1="423.2" x2="1096.5" y2="423.2" stroke="#e2747a" stroke-width="0.9" />
<line x1="927.3" y1="433.5" x2="1096.5" y2="433.5" stroke="#e2747a" stroke-width="0.9" />
<line x1="927.3" y1="355.3" x2="927.3" y2="525.7" stroke="#b5b5b5" stroke-width="0.9" />
<line x1="927.3" y1="525.7" x2="1096.6" y2="525.7" stroke="#b5b5b5" stroke-width="0.9" />
<line x1="927.3" y1="525.7" x2="929.3" y2="525.7" stroke="#b5b5b5" stroke-width="0.8" />
<text transform="translate(924.3,530.1) scale(0.745,1)" font-size="10" text-anchor="end" fill="#262626" stroke="#262626" stroke-width="0.25" >0</text>
<line x1="927.3" y1="501.4" x2="929.3" y2="501.4" stroke="#b5b5b5" stroke-width="0.8" />
<text transform="translate(924.3,505.8) scale(0.745,1)" font-size="10" text-anchor="end" fill="#262626" stroke="#262626" stroke-width="0.25" >0.05</text>
<line x1="927.3" y1="477.0" x2="929.3" y2="477.0" stroke="#b5b5b5" stroke-width="0.8" />
<text transform="translate(924.3,481.4) scale(0.745,1)" font-size="10" text-anchor="end" fill="#262626" stroke="#262626" stroke-width="0.25" >0.1</text>
<line x1="927.3" y1="452.7" x2="929.3" y2="452.7" stroke="#b5b5b5" stroke-width="0.8" />
<text transform="translate(924.3,457.1) scale(0.745,1)" font-size="10" text-anchor="end" fill="#262626" stroke="#262626" stroke-width="0.25" >0.15</text>
<line x1="927.3" y1="428.3" x2="929.3" y2="428.3" stroke="#b5b5b5" stroke-width="0.8" />
<text transform="translate(924.3,432.7) scale(0.745,1)" font-size="10" text-anchor="end" fill="#262626" stroke="#262626" stroke-width="0.25" >0.2</text>
<line x1="927.3" y1="404.0" x2="929.3" y2="404.0" stroke="#b5b5b5" stroke-width="0.8" />
<text transform="translate(924.3,408.4) scale(0.745,1)" font-size="10" text-anchor="end" fill="#262626" stroke="#262626" stroke-width="0.25" >0.25</text>
<line x1="927.3" y1="379.6" x2="929.3" y2="379.6" stroke="#b5b5b5" stroke-width="0.8" />
<text transform="translate(924.3,384.0) scale(0.745,1)" font-size="10" text-anchor="end" fill="#262626" stroke="#262626" stroke-width="0.25" >0.3</text>
<line x1="927.3" y1="355.2" x2="929.3" y2="355.2" stroke="#b5b5b5" stroke-width="0.8" />
<text transform="translate(924.3,359.6) scale(0.745,1)" font-size="10" text-anchor="end" fill="#262626" stroke="#262626" stroke-width="0.25" >0.35</text>
<line x1="926.8" y1="525.7" x2="926.8" y2="523.7" stroke="#b5b5b5" stroke-width="0.8" />
<text transform="translate(926.8,540.3) scale(0.745,1)" font-size="10.2" text-anchor="middle" fill="#262626" stroke="#262626" stroke-width="0.25" >0</text>
<line x1="954.2" y1="525.7" x2="954.2" y2="523.7" stroke="#b5b5b5" stroke-width="0.8" />
<text transform="translate(954.2,540.3) scale(0.745,1)" font-size="10.2" text-anchor="middle" fill="#262626" stroke="#262626" stroke-width="0.25" >50</text>
<line x1="981.7" y1="525.7" x2="981.7" y2="523.7" stroke="#b5b5b5" stroke-width="0.8" />
<text transform="translate(981.7,540.3) scale(0.745,1)" font-size="10.2" text-anchor="middle" fill="#262626" stroke="#262626" stroke-width="0.25" >100</text>
<line x1="1009.1" y1="525.7" x2="1009.1" y2="523.7" stroke="#b5b5b5" stroke-width="0.8" />
<text transform="translate(1009.1,540.3) scale(0.745,1)" font-size="10.2" text-anchor="middle" fill="#262626" stroke="#262626" stroke-width="0.25" >150</text>
<line x1="1036.6" y1="525.7" x2="1036.6" y2="523.7" stroke="#b5b5b5" stroke-width="0.8" />
<text transform="translate(1036.6,540.3) scale(0.745,1)" font-size="10.2" text-anchor="middle" fill="#262626" stroke="#262626" stroke-width="0.25" >200</text>
<line x1="1064.0" y1="525.7" x2="1064.0" y2="523.7" stroke="#b5b5b5" stroke-width="0.8" />
<text transform="translate(1064.0,540.3) scale(0.745,1)" font-size="10.2" text-anchor="middle" fill="#262626" stroke="#262626" stroke-width="0.25" >250</text>
<line x1="1091.5" y1="525.7" x2="1091.5" y2="523.7" stroke="#b5b5b5" stroke-width="0.8" />
<text transform="translate(1091.5,540.3) scale(0.745,1)" font-size="10.2" text-anchor="middle" fill="#262626" stroke="#262626" stroke-width="0.25" >300</text>
<text transform="translate(1012.2,554.2) scale(0.81,1)" font-size="10.6" text-anchor="middle" fill="#262626" stroke="#262626" stroke-width="0.25" >Time (s)</text>
<text transform="translate(905.4,440.0) scale(0.72,1.0) rotate(-90)" font-size="11.4" text-anchor="middle" fill="#262626" stroke="#262626" stroke-width="0.3">Concentration (-)</text>
</g>
<polygon points="207.7,297.3 349.8,297.3 349.8,339.3 368.3,339.3 368.3,326.3 397.7,366.7 368.3,406.9 368.3,394.4 349.8,394.4 349.8,435.9 207.7,435.9" fill="#5b9bd5" stroke="#386a9c" stroke-width="1.2" stroke-linejoin="miter"/>
<polygon points="396.3,297.3 590.7,297.3 590.7,339.3 626.6,339.3 626.6,326.4 655.3,366.7 626.6,407.2 626.6,394.5 590.7,394.5 590.7,435.9 396.3,435.9" fill="#5b9bd5" stroke="#386a9c" stroke-width="1.2" stroke-linejoin="miter"/>
<polygon points="654.5,250.7 763.0,250.7 792.0,366.8 762.6,483.1 654.5,483.1" fill="#5b9bd5" stroke="#386a9c" stroke-width="1.2" stroke-linejoin="miter"/>
<text x="280.6" y="340.9" font-family="Liberation Serif, serif" font-style="italic" font-size="30" fill="#fff" stroke="#fff" stroke-width="0.35" text-anchor="middle" textLength="66.8" lengthAdjust="spacingAndGlyphs">Feeder</text>
<text x="281.2" y="377.2" font-family="Liberation Serif, serif" font-style="italic" font-size="30" fill="#fff" stroke="#fff" stroke-width="0.35" text-anchor="middle" textLength="119.0" lengthAdjust="spacingAndGlyphs">Digital Twin</text>
<text x="281.1" y="414.0" font-family="Liberation Serif, serif" font-style="italic" font-size="30" fill="#fff" stroke="#fff" stroke-width="0.35" text-anchor="middle" textLength="111.7" lengthAdjust="spacingAndGlyphs">(Feeder, ṁ )</text>
<text x="495.9" y="340.9" font-family="Liberation Serif, serif" font-style="italic" font-size="30" fill="#fff" stroke="#fff" stroke-width="0.35" text-anchor="middle" textLength="43.7" lengthAdjust="spacingAndGlyphs">RTD</text>
<text x="495.4" y="377.2" font-family="Liberation Serif, serif" font-style="italic" font-size="30" fill="#fff" stroke="#fff" stroke-width="0.35" text-anchor="middle" textLength="141.8" lengthAdjust="spacingAndGlyphs">Different CPPs</text>
<text x="495.8" y="414.0" font-family="Liberation Serif, serif" font-style="italic" font-size="30" fill="#fff" stroke="#fff" stroke-width="0.35" text-anchor="middle" textLength="58.9" lengthAdjust="spacingAndGlyphs">(PDF)</text>
<text x="718.1" y="324.0" font-family="Liberation Serif, serif" font-style="italic" font-size="30.5" fill="#fff" stroke="#fff" stroke-width="0.35" text-anchor="middle" textLength="68.8" lengthAdjust="spacingAndGlyphs">Quality</text>
<text x="718.1" y="359.0" font-family="Liberation Serif, serif" font-style="italic" font-size="30.5" fill="#fff" stroke="#fff" stroke-width="0.35" text-anchor="middle" textLength="71.2" lengthAdjust="spacingAndGlyphs">Control</text>
<text x="718.8" y="433.0" font-family="Liberation Serif, serif" font-style="italic" font-size="31" fill="#fff" stroke="#fff" stroke-width="0.35" text-anchor="middle" textLength="102.9" lengthAdjust="spacingAndGlyphs">Feasibility</text>
<polygon points="740.3,256.4 831.6,162.6 826.9,154.3 865.0,162.1 859.3,211.4 855.2,203.0 760.7,293.6" fill="#ed7d31" stroke="#3d5a7d" stroke-width="1.3" stroke-linejoin="miter"/>
<polygon points="789.6,409.4 849.6,440.3 853.1,429.1 868.2,475.6 833.3,497.6 837.8,487.4 776.3,456.0" fill="#ed7d31" stroke="#3d5a7d" stroke-width="1.3" stroke-linejoin="miter"/>
<text transform="translate(762,277.2) scale(0.77,1) rotate(-36.5)" font-size="27" fill="#fff" stroke="#fff" stroke-width="0.25" textLength="134" lengthAdjust="spacingAndGlyphs">Funnel plot</text>
<text transform="translate(801.5,454.5) scale(0.74,1) rotate(20.9)" font-size="27" fill="#fff" stroke="#fff" stroke-width="0.2" textLength="35" lengthAdjust="spacingAndGlyphs">CU</text>
</svg></body></html>
